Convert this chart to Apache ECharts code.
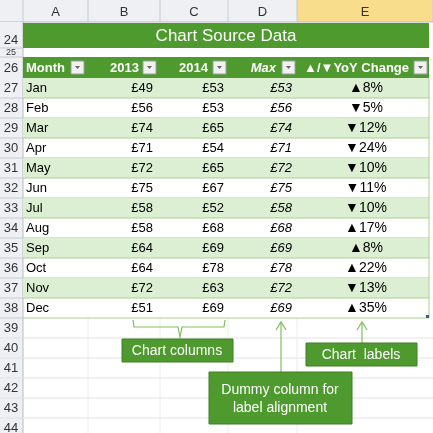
<!DOCTYPE html>
<html><head><meta charset="utf-8">
<script src="https://cdn.jsdelivr.net/npm/echarts@6/dist/echarts.min.js"></script>
<style>html,body{margin:0;padding:0;background:#fff}#c{width:433px;height:433px}</style>
</head><body><div id="c"></div>
<script>
const months = ['Jan','Feb','Mar','Apr','May','Jun','Jul','Aug','Sep','Oct','Nov','Dec'];
const v2013 = [49,56,74,71,72,75,58,58,64,64,72,51];
const v2014 = [53,53,65,54,65,67,52,68,69,78,63,69];
const vMax = [53,56,74,71,72,75,58,68,69,78,72,69];
const yoy = ['▲8%','▼5%','▼12%','▼24%','▼10%','▼11%','▼10%','▲17%','▲8%','▲22%','▼13%','▲35%'];
const colLetters = ['A','B','C','D','E'];
const headers = ['Month','2013','2014','Max','▲/▼YoY Change'];

const F = '"Liberation Sans", Arial, sans-serif';
const G = '#4e9a2f', LG = '#dcefd3', LINE = '#a9d08e';
const colX = [23,88,160,228,297,433];
const els = [];
function rect(x,y,w,h,fill,stroke,lw){els.push({type:'rect',shape:{x,y,width:w,height:h},style:{fill:fill||'none',stroke:stroke||null,lineWidth:lw||1},silent:true});}
function line(x1,y1,x2,y2,c,lw){els.push({type:'line',shape:{x1,y1,x2,y2},style:{stroke:c,lineWidth:lw||1},silent:true});}
function text(x,y,t,o){o=o||{};els.push({type:'text',x,y,style:{text:t,fill:o.fill||'#000',font:(o.italic?'italic ':'')+(o.bold?'bold ':'')+(o.size||13)+'px '+F,textAlign:o.align||'left',textVerticalAlign:'middle'},silent:true});}

rect(0,0,433,22,'#eef0f3');
rect(297,0,136,22,'#f7dd8c');
line(0,22,433,22,'#b7bcc4');
colX.forEach(x=>line(x,0,x,22,'#c6cbd2'));
colLetters.forEach((l,i)=>text((colX[i]+colX[i+1])/2,12,l,{align:'center',fill:'#333',size:13}));
rect(0,22,23,411,'#eef0f3');
line(23,22,23,433,'#b7bcc4');
for(let r=0;r<6;r++){const y=318+20*(r+1);line(0,y,433,y,'#e2e2e2');}
[88,160,228,297].forEach(x=>line(x,318,x,433,'#ececec'));
rect(23,23,406,25,G);
text(226,36,'Chart Source Data',{align:'center',fill:'#fff',size:17});
text(11,40,'24',{align:'center',fill:'#333'});
line(0,48,23,48,'#c6cbd2');
text(11,53,'25',{align:'center',fill:'#333',size:9});
rect(23,57,406,21,G);
text(11,68,'26',{align:'center',fill:'#333'});
line(0,57,23,57,'#c6cbd2');
const hdrRight=[0,139,208,276,409];
headers.forEach((h,i)=>{
  if(i===0) text(26,68,h,{bold:true,fill:'#fff'});
  else text(hdrRight[i],68,h,{bold:true,fill:'#fff',italic:i===3,align:'right'});
});
[71,143,213,282,414].forEach(x=>{rect(x,61,13,13,'#f1f1f1','#9aa0a6');els.push({type:'polygon',shape:{points:[[x+4,66],[x+9,66],[x+6.5,69]]},style:{fill:'#666'},silent:true});});
months.forEach((m,i)=>{
  const y=78+20*i, cy=y+10;
  if(i%2===0) rect(23,y,406,20,LG);
  line(23,y+20,429,y+20,LINE);
  line(0,y+20,23,y+20,'#c6cbd2');
  text(11,cy,String(27+i),{align:'center',fill:'#333'});
  text(26,cy,m);
  text(153,cy,'£'+v2013[i],{align:'right'});
  text(224,cy,'£'+v2014[i],{align:'right'});
  text(292,cy,'£'+vMax[i],{align:'right',italic:true});
  text(366,cy,yoy[i],{align:'center',size:14});
});
line(429,78,429,318,LINE);
for(let r=0;r<6;r++) text(11,328+20*r,String(39+r),{align:'center',fill:'#333'});
rect(426,315,3,3,'#3a5a8a');
const ANN='#7fbf5f';
els.push({type:'polyline',shape:{points:[[133,320],[134,327],[178,327],[180,337],[182,327],[224,327],[225,320]]},style:{stroke:ANN,fill:'none',lineWidth:1.2},silent:true});
rect(122,339,111,23,G,'#3f7f24');
text(177,351,'Chart columns',{align:'center',fill:'#fff',size:14});
line(281,322,281,372,ANN,1.2);
els.push({type:'polyline',shape:{points:[[276,330],[281,322],[286,330]]},style:{stroke:ANN,fill:'none',lineWidth:1.2},silent:true});
rect(209,372,143,52,G,'#3f7f24');
text(280,390,'Dummy column for',{align:'center',fill:'#fff',size:14});
text(280,408,'label alignment',{align:'center',fill:'#fff',size:14});
line(362,322,362,343,ANN,1.2);
els.push({type:'polyline',shape:{points:[[357,330],[362,322],[367,330]]},style:{stroke:ANN,fill:'none',lineWidth:1.2},silent:true});
rect(306,343,111,23,G,'#3f7f24');
text(361,355,'Chart  labels',{align:'center',fill:'#fff',size:14});

const chart=echarts.init(document.getElementById('c'));
chart.setOption({animation:false,graphic:{elements:els}});
</script></body></html>
